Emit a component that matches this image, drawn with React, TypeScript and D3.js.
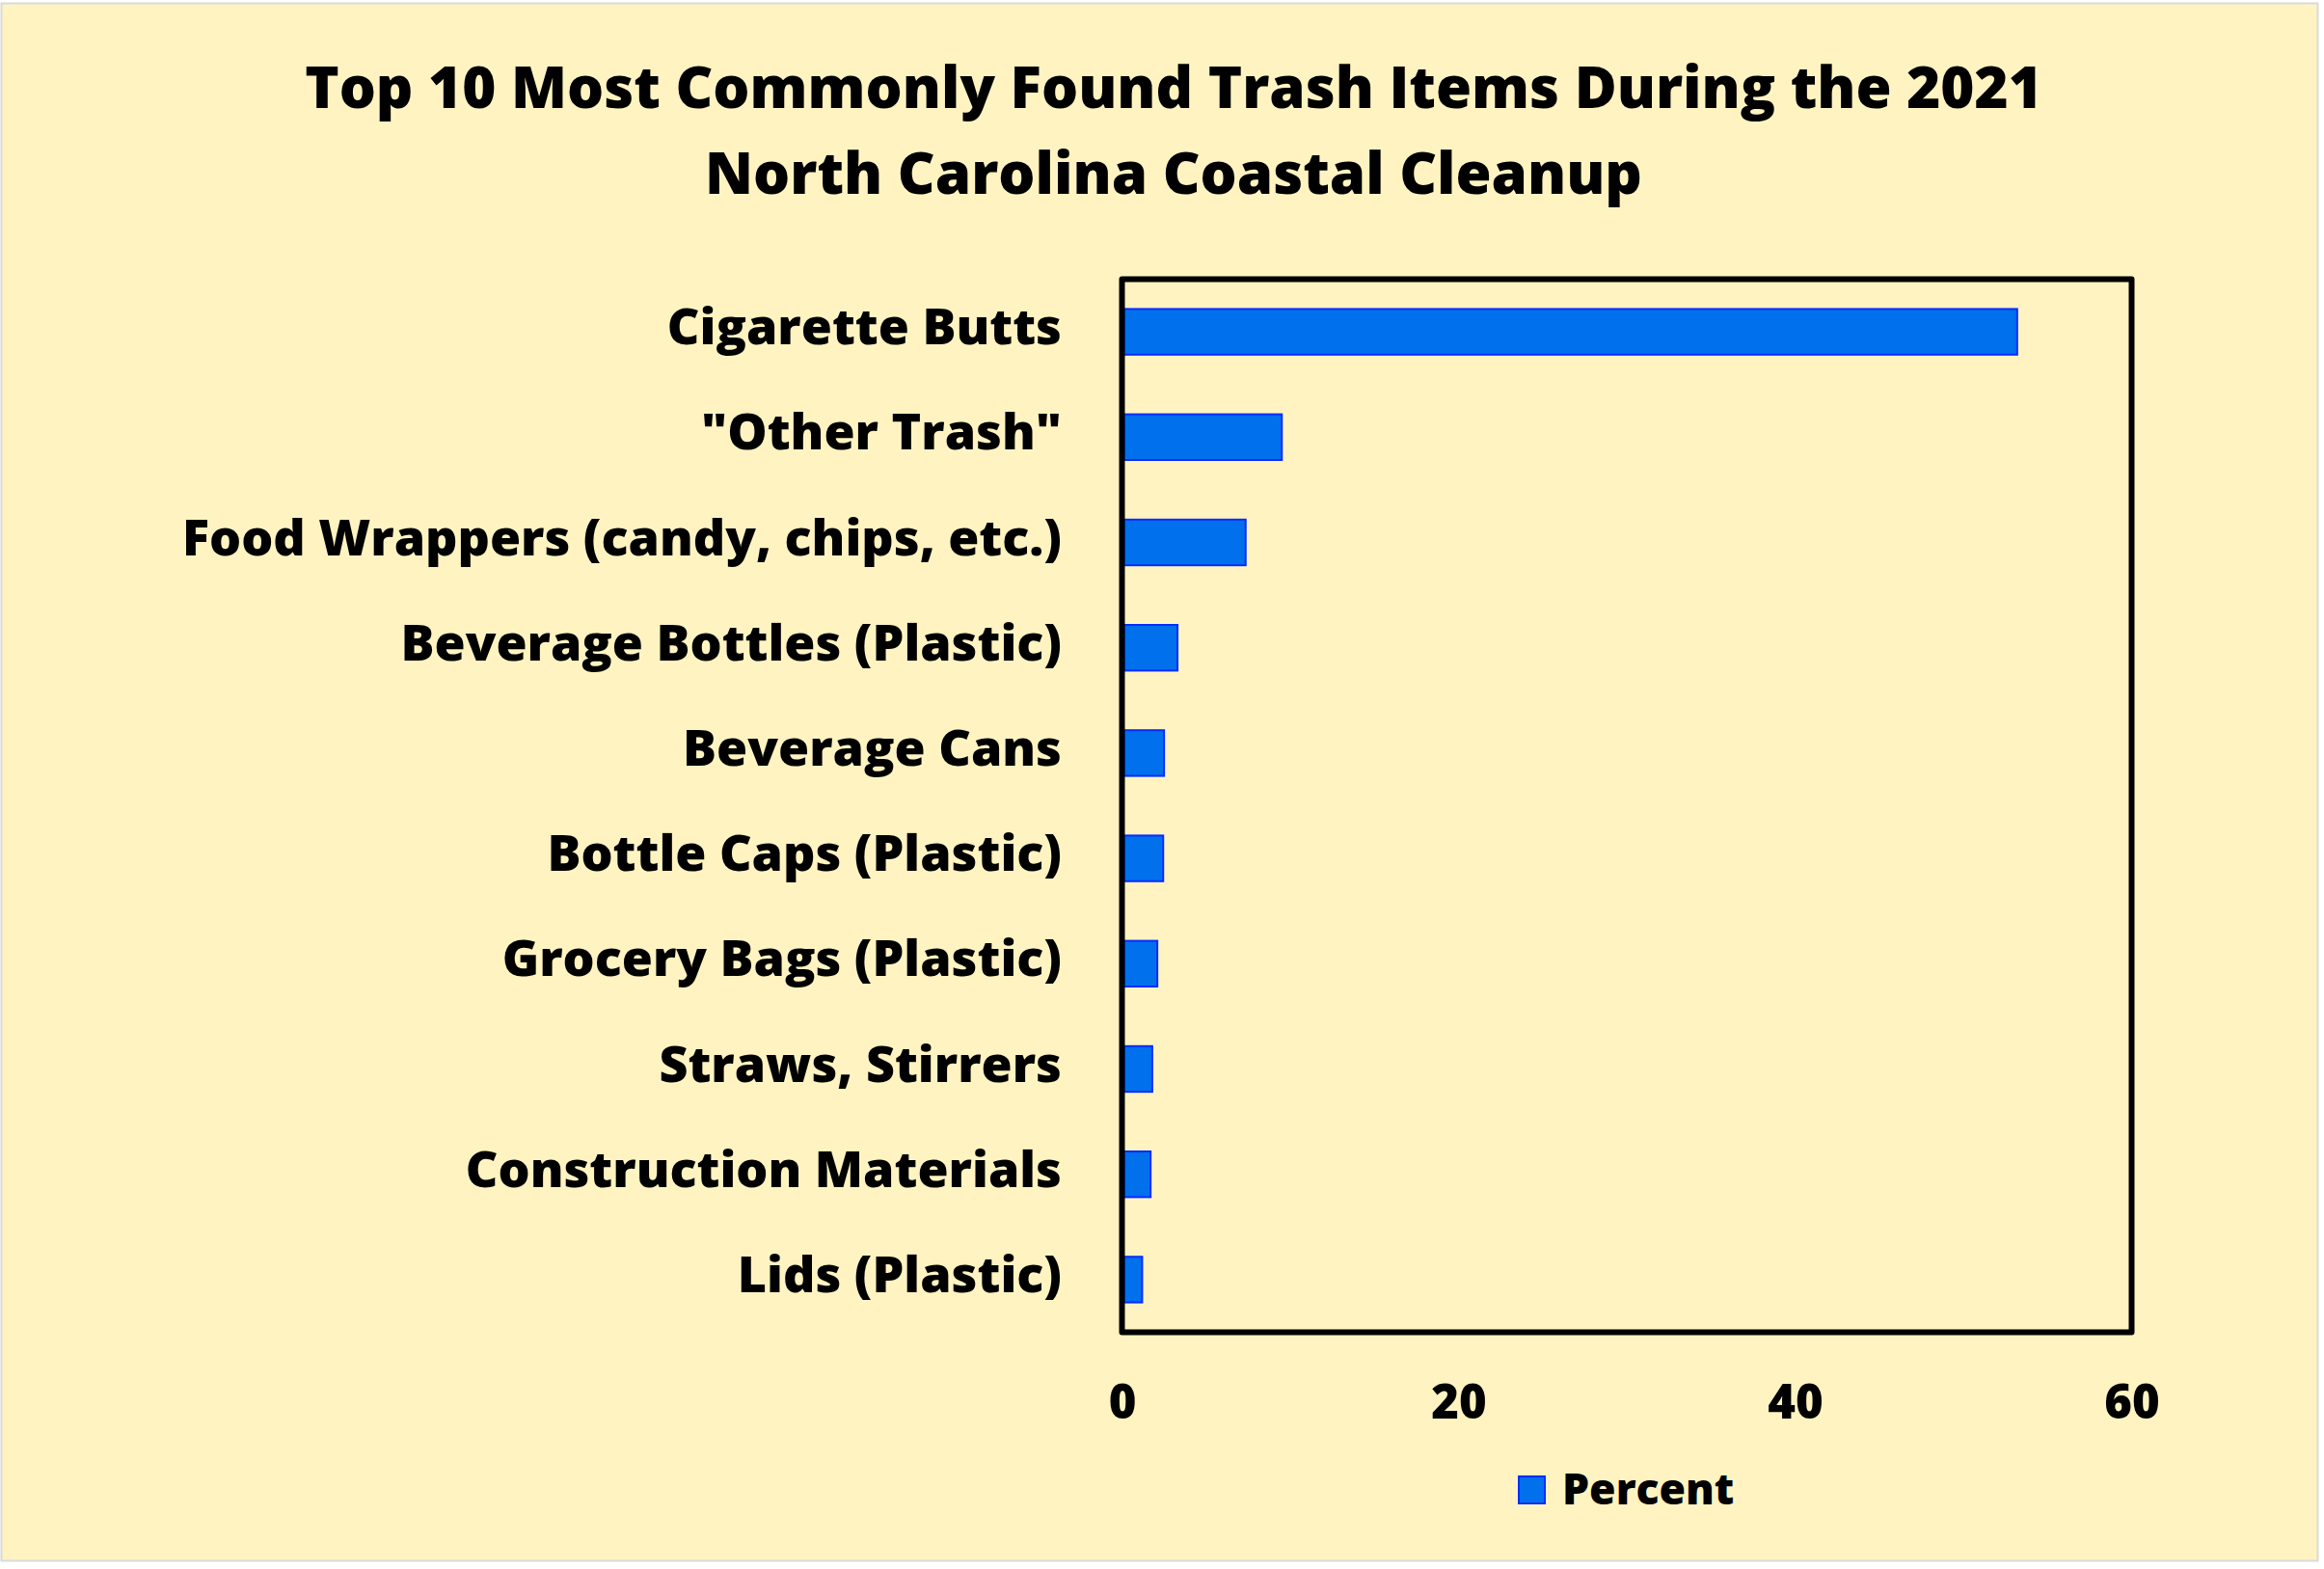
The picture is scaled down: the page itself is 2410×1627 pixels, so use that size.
import { useEffect, useRef } from "react";
import * as d3 from "d3";

const titleLines = [
  "Top 10 Most Commonly Found Trash Items During the 2021",
  "North Carolina Coastal Cleanup",
];
const items = [
  "Cigarette Butts",
  "\"Other Trash\"",
  "Food Wrappers (candy, chips, etc.)",
  "Beverage Bottles (Plastic)",
  "Beverage Cans",
  "Bottle Caps (Plastic)",
  "Grocery Bags (Plastic)",
  "Straws, Stirrers",
  "Construction Materials",
  "Lids (Plastic)",
];
const percent = [53.2, 9.5, 7.35, 3.3, 2.5, 2.45, 2.1, 1.8, 1.7, 1.2];
const xTicks = [0, 20, 40, 60];
const seriesName = "Percent";

const FONT = "'Open Sans', Lato, sans-serif";
const WEIGHT = 800;

export default function App() {
  const svgRef = useRef<SVGSVGElement>(null);

  useEffect(() => {
    if (!svgRef.current) return;
    const W = 2410, H = 1627;
    const plot = { left: 1163.5, right: 2210.5, top: 289.5, bottom: 1381.5 };

    const svg = d3.select(svgRef.current);
    svg.selectAll("*").remove();

    svg.append("rect")
      .attr("x", 0).attr("y", 0).attr("width", W).attr("height", H)
      .attr("fill", "#ffffff");
    svg.append("rect")
      .attr("x", 1.5).attr("y", 3.5).attr("width", 2402).attr("height", 1615)
      .attr("fill", "#fff4c1")
      .attr("stroke", "#d9d9d9")
      .attr("stroke-width", 2);

    // title
    svg.append("g")
      .selectAll("text")
      .data(titleLines)
      .enter()
      .append("text")
      .attr("x", 1217)
      .attr("y", (_, i) => 112 + i * 89)
      .attr("text-anchor", "middle")
      .attr("font-family", FONT)
      .attr("font-weight", WEIGHT)
      .attr("font-size", 60)
      .attr("fill", "#000")
      .text(d => d);

    const xScale = d3.scaleLinear()
      .domain([0, 60])
      .range([plot.left, plot.right]);
    const yScale = d3.scaleBand<string>()
      .domain(items)
      .range([plot.top, plot.bottom])
      .paddingInner(0.566)
      .paddingOuter(0.283);

    // bars
    svg.append("g")
      .selectAll("rect")
      .data(items)
      .enter()
      .append("rect")
      .attr("x", xScale(0) + 2)
      .attr("y", d => yScale(d)!)
      .attr("width", (_, i) => xScale(percent[i]) - xScale(0) - 2)
      .attr("height", yScale.bandwidth())
      .attr("fill", "#0070ec")
      .attr("stroke", "#0a2cff")
      .attr("stroke-width", 2);

    // plot frame
    svg.append("rect")
      .attr("x", plot.left)
      .attr("y", plot.top)
      .attr("width", plot.right - plot.left)
      .attr("height", plot.bottom - plot.top)
      .attr("fill", "none")
      .attr("stroke", "#000")
      .attr("stroke-width", 6)
      .attr("stroke-linejoin", "round");

    // category labels
    svg.append("g")
      .selectAll("text")
      .data(items)
      .enter()
      .append("text")
      .attr("x", 1101)
      .attr("y", d => yScale(d)! + yScale.bandwidth() / 2 + 13)
      .attr("text-anchor", "end")
      .attr("font-family", FONT)
      .attr("font-weight", WEIGHT)
      .attr("font-size", 52)
      .attr("fill", "#000")
      .text(d => d);

    // x axis tick labels
    const xAxis = d3.axisBottom<number>(xScale)
      .tickValues(xTicks)
      .tickSize(0)
      .tickPadding(0)
      .tickFormat(d3.format("d"));
    const gx = svg.append("g")
      .attr("transform", `translate(0,${1471})`)
      .call(xAxis);
    gx.select(".domain").remove();
    gx.selectAll("text")
      .attr("dy", 0)
      .attr("y", 0)
      .attr("font-family", FONT)
      .attr("font-weight", WEIGHT)
      .attr("font-size", 49)
      .attr("fill", "#000");

    // legend
    const lg = svg.append("g").attr("transform", "translate(1574,1530)");
    lg.append("rect")
      .attr("x", 1).attr("y", 1).attr("width", 27).attr("height", 28)
      .attr("fill", "#0070ec")
      .attr("stroke", "#0a2cff")
      .attr("stroke-width", 2);
    lg.append("text")
      .attr("x", 46)
      .attr("y", 30)
      .attr("font-family", FONT)
      .attr("font-weight", WEIGHT)
      .attr("font-size", 44.5)
      .attr("fill", "#000")
      .text(seriesName);
  }, []);

  return (
    <svg
      ref={svgRef}
      width={2410}
      height={1627}
      style={{ position: "absolute", left: 0, top: 0 }}
    ></svg>
  );
}
